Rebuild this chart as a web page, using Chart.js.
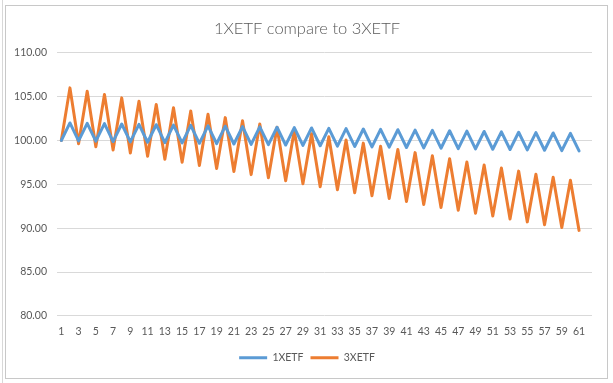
<!DOCTYPE html>
<html>
<head>
<meta charset="utf-8">
<script src="https://cdn.jsdelivr.net/npm/chart.js@4.4.1/dist/chart.umd.min.js"></script>
<style>
  html, body { margin: 0; padding: 0; background: #ffffff; }
  #wrap { position: relative; width: 613px; height: 383px; overflow: hidden; }
  #frame { position: absolute; left: 5px; top: 5px; width: 601px; height: 372px; border: 1px solid #c8c8c8; pointer-events: none; }
  #leftline { position: absolute; left: 2px; top: 0; width: 1px; height: 383px; background: #d8d8d8; }
  canvas { position: absolute; left: 0; top: 0; }
</style>
</head>
<body>
<div id="wrap">
  <div id="leftline"></div>
  <canvas id="c" width="613" height="383"></canvas>
  <div id="frame"></div>
</div>
<script>
const categories = ["1","2","3","4","5","6","7","8","9","10","11","12","13","14","15","16","17","18","19","20",
  "21","22","23","24","25","26","27","28","29","30","31","32","33","34","35","36","37","38","39","40",
  "41","42","43","44","45","46","47","48","49","50","51","52","53","54","55","56","57","58","59","60","61","62"];

const etf1x = [100.00,102.00,99.96,101.96,99.92,101.92,99.88,101.88,99.84,101.84,99.80,101.80,99.76,101.76,99.72,101.72,
  99.68,101.67,99.64,101.63,99.60,101.59,99.56,101.55,99.52,101.51,99.48,101.47,99.44,101.43,99.40,101.39,
  99.36,101.35,99.32,101.31,99.28,101.27,99.24,101.23,99.20,101.19,99.16,101.15,99.12,101.11,99.08,101.07,
  99.04,101.03,99.00,100.98,98.97,100.94,98.93,100.90,98.89,100.86,98.85,100.82,98.81];

const etf3x = [100.00,106.00,99.64,105.62,99.28,105.24,98.92,104.86,98.57,104.48,98.21,104.11,97.86,103.73,97.51,103.36,
  97.16,102.99,96.81,102.61,96.46,102.25,96.11,101.88,95.76,101.51,95.42,101.14,95.08,100.78,94.73,100.42,
  94.39,100.06,94.05,99.70,93.71,99.34,93.38,98.98,93.04,98.62,92.71,98.27,92.37,97.91,92.04,97.56,
  91.71,97.21,91.38,96.86,91.05,96.51,90.72,96.16,90.39,95.82,90.07,95.47,89.75];

const yTicks = [80, 85, 90, 95, 100, 105, 110];

const txt = '#595959';
const fontFam = 'Lato, "Liberation Sans", sans-serif';

const centerShift = {
  id: 'centerShift',
  afterLayout(chart) {
    const d = 11;
    [chart.legend, chart.titleBlock].forEach(b => {
      if (b) { b.left += d; b.right += d; }
    });
  }
};

new Chart(document.getElementById('c'), {
  type: 'line',
  data: {
    labels: categories,
    datasets: [
      { label: '1XETF', data: etf1x, borderColor: '#5B9BD5', backgroundColor: '#5B9BD5',
        borderWidth: 3, pointRadius: 0, tension: 0, borderJoinStyle: 'round', borderCapStyle: 'round' },
      { label: '3XETF', data: etf3x, borderColor: '#ED7D31', backgroundColor: '#ED7D31',
        borderWidth: 3, pointRadius: 0, tension: 0, borderJoinStyle: 'round', borderCapStyle: 'round' }
    ]
  },
  plugins: [centerShift],
  options: {
    responsive: false,
    animation: false,
    events: [],
    layout: { padding: { left: 0, right: 21, top: 0, bottom: 10 } },
    plugins: {
      title: {
        display: true,
        text: '1XETF compare to 3XETF',
        color: txt,
        font: { family: fontFam, size: 16.5, weight: '300' },
        padding: { top: 19, bottom: 14 }
      },
      legend: {
        position: 'bottom',
        labels: {
          color: txt,
          font: { family: fontFam, size: 10.5 },
          usePointStyle: true,
          pointStyle: 'line',
          pointStyleWidth: 28,
          boxHeight: 11,
          padding: 7
        }
      },
      tooltip: { enabled: false }
    },
    scales: {
      x: {
        offset: true,
        grid: { display: false, drawTicks: false },
        border: { display: false },
        afterFit: function(s) { s.height = s.height - 1; },
        ticks: {
          color: txt,
          font: { family: fontFam, size: 10.5 },
          autoSkip: false,
          maxRotation: 0,
          padding: 9,
          callback: function(v, i) { return (i % 2 === 0 && i < 61) ? categories[i] : ''; }
        }
      },
      y: {
        min: yTicks[0],
        max: yTicks[yTicks.length - 1],
        afterBuildTicks: function(s) { s.ticks = yTicks.map(v => ({ value: v })); },
        afterFit: function(s) { s.width = 57; },
        grid: { color: '#d9d9d9', drawTicks: false, lineWidth: 1 },
        border: { display: false },
        ticks: {
          color: txt,
          font: { family: fontFam, size: 10.5 },
          padding: 10,
          callback: function(v) { return Number(v).toFixed(2); }
        }
      }
    }
  }
});
</script>
</body>
</html>
